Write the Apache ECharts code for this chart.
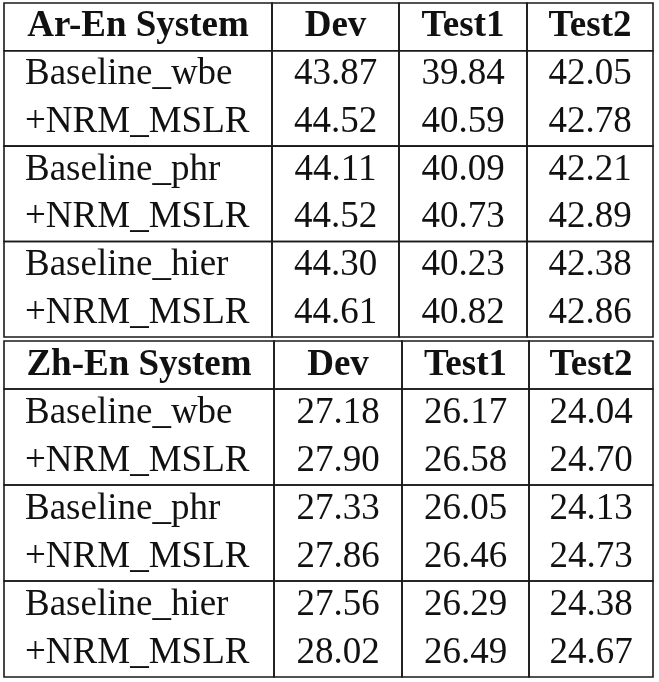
<!DOCTYPE html>
<html><head><meta charset="utf-8">
<script src="https://cdn.jsdelivr.net/npm/echarts@6/dist/echarts.min.js"></script>
<style>html,body{margin:0;padding:0;background:#fff}#c{width:659px;height:682px}</style>
</head><body><div id="c"></div>
<script>
// ---- data ----
const arHeader = ['Ar-En System', 'Dev', 'Test1', 'Test2'];
const zhHeader = ['Zh-En System', 'Dev', 'Test1', 'Test2'];
const systems = ['Baseline_wbe', '+NRM_MSLR', 'Baseline_phr', '+NRM_MSLR', 'Baseline_hier', '+NRM_MSLR'];
const arDev   = [43.87, 44.52, 44.11, 44.52, 44.30, 44.61];
const arTest1 = [39.84, 40.59, 40.09, 40.73, 40.23, 40.82];
const arTest2 = [42.05, 42.78, 42.21, 42.89, 42.38, 42.86];
const zhDev   = [27.18, 27.90, 27.33, 27.86, 27.56, 28.02];
const zhTest1 = [26.17, 26.58, 26.05, 26.46, 26.29, 26.49];
const zhTest2 = [24.04, 24.70, 24.13, 24.73, 24.38, 24.67];
const rowKeys = ['head', 'r1', 'r2', 'r3', 'r4', 'r5', 'r6'];
const rowGroups = [[0, 0], [1, 2], [3, 4], [5, 6]];

// ---- layout ----
const tables = [
  { header: arHeader, cols: [systems, arDev, arTest1, arTest2], edges: [0, 268, 395, 523, 649], top: 3, height: 334 },
  { header: zhHeader, cols: [systems, zhDev, zhTest1, zhTest2], edges: [0, 270, 398, 525, 649], top: 341, height: 336 }
];
const FONT = '"Liberation Serif", "Times New Roman", serif';
const FS = 37;
const LINE = '#1a1a1a';

function cellText(t, c, r) {
  if (r === 0) return t.header[c];
  if (c === 0) return t.cols[0][r - 1];
  return t.cols[c][r - 1].toFixed(2);
}

const grid = [], xAxis = [], yAxis = [], series = [];
tables.forEach((t, i) => {
  grid.push({ left: 4, width: 649, top: t.top, height: t.height, containLabel: false });
  xAxis.push({ type: 'value', gridIndex: i, min: 0, max: 649, show: false });
  yAxis.push({ type: 'category', gridIndex: i, data: rowKeys, inverse: true, show: false, boundaryGap: true });

  const frameData = [];
  rowGroups.forEach(g => { for (let c = 0; c < 4; c++) frameData.push([c, g[0], g[1]]); });
  series.push({
    type: 'custom', xAxisIndex: i, yAxisIndex: i, silent: true, animation: false,
    data: frameData,
    renderItem: (params, api) => {
      const c = api.value(0), r0 = api.value(1), r1 = api.value(2);
      const h = api.size([0, 1])[1];
      const p0 = api.coord([t.edges[c], r0]);
      const p1 = api.coord([t.edges[c + 1], r1]);
      return {
        type: 'rect',
        shape: { x: p0[0], y: p0[1] - h / 2, width: p1[0] - p0[0], height: p1[1] - p0[1] + h },
        style: { fill: null, stroke: LINE, lineWidth: 1.6 }
      };
    }
  });

  const cellData = [];
  for (let r = 0; r < rowKeys.length; r++) for (let c = 0; c < 4; c++) cellData.push([c, r]);
  series.push({
    type: 'custom', xAxisIndex: i, yAxisIndex: i, silent: true, animation: false,
    data: cellData,
    renderItem: (params, api) => {
      const c = api.value(0), r = api.value(1);
      let x, align = 'center';
      if (c === 0 && r > 0) { x = t.edges[0] + 21; align = 'left'; }
      else x = (t.edges[c] + t.edges[c + 1]) / 2;
      const p = api.coord([x, r]);
      return {
        type: 'text',
        style: {
          x: p[0], y: p[1], text: cellText(t, c, r),
          fontFamily: FONT, fontSize: FS, fontWeight: r === 0 ? 'bold' : 'normal',
          fill: '#111', align: align, verticalAlign: 'middle'
        }
      };
    }
  });
});

const chart = echarts.init(document.getElementById('c'));
chart.setOption({ backgroundColor: '#fff', animation: false, grid, xAxis, yAxis, series });
</script>
</body></html>
